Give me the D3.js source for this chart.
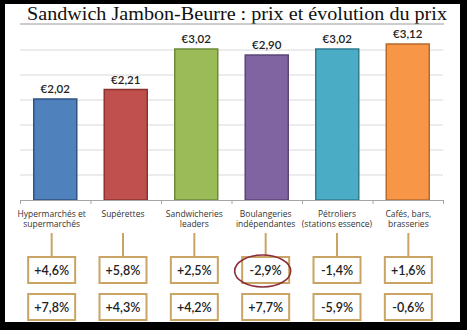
<!DOCTYPE html>
<html><head><meta charset="utf-8">
<script src="https://cdn.jsdelivr.net/npm/d3@7"></script>
<style>html,body{margin:0;padding:0;background:#000;}svg{display:block;}</style>
</head><body>
<script>
const title = "Sandwich Jambon-Beurre : prix et évolution du prix";
const categories = [
  ["Hypermarchés et", "supermarchés"],
  ["Supérettes"],
  ["Sandwicheries", "leaders"],
  ["Boulangeries", "indépendantes"],
  ["Pétroliers", "(stations essence)"],
  ["Cafés, bars,", "brasseries"]
];
const prices = [2.02, 2.21, 3.02, 2.90, 3.02, 3.12];
const priceLabels = ["€2,02", "€2,21", "€3,02", "€2,90", "€3,02", "€3,12"];
const evolution1 = ["+4,6%", "+5,8%", "+2,5%", "-2,9%", "-1,4%", "+1,6%"];
const evolution2 = ["+7,8%", "+4,3%", "+4,2%", "+7,7%", "-5,9%", "-0,6%"];
const gridTicks = [0.5, 1, 1.5, 2, 2.5, 3];
const highlighted = 3;
const colors = ["#4F81BD", "#C0504D", "#9BBB59", "#8064A2", "#4BACC6", "#F79646"];
const strokes = ["#2f5385", "#8c3331", "#6d8a3a", "#5a4575", "#2f7c91", "#b8692c"];

const W = 467, H = 330;
const svg = d3.select("body").append("svg").attr("width", W).attr("height", H);
svg.append("rect").attr("x", 0).attr("y", 0).attr("width", W).attr("height", H).attr("fill", "#000");
svg.append("rect").attr("x", 5).attr("y", 4).attr("width", 455).attr("height", 318).attr("fill", "#fff");

// Title
svg.append("text").attr("x", 237).attr("y", 20).attr("text-anchor", "middle")
  .attr("font-family", "Liberation Serif, DejaVu Serif, serif").attr("font-size", 19)
  .attr("textLength", 420).attr("lengthAdjust", "spacingAndGlyphs")
  .attr("fill", "#111").text(title);
svg.append("line").attr("x1", 20).attr("x2", 444).attr("y1", 24).attr("y2", 24)
  .attr("stroke", "#9a9a9a").attr("stroke-width", 1);

const idx = d3.range(categories.length);
const x = d3.scaleBand().domain(idx).range([20, 443]).paddingInner(0.39).paddingOuter(0.195);
const y = d3.scaleLinear().domain([0, 3]).range([200, 50]);

// gridlines
svg.append("g").selectAll("line").data(gridTicks).join("line")
  .attr("x1", 20).attr("x2", 443).attr("y1", d => y(d)).attr("y2", d => y(d))
  .attr("stroke", "#d9d9d9").attr("stroke-width", 1);

// bars
svg.append("g").selectAll("rect").data(idx).join("rect")
  .attr("x", i => x(i)).attr("width", x.bandwidth())
  .attr("y", i => y(prices[i])).attr("height", i => y(0) - y(prices[i]))
  .attr("fill", i => colors[i]).attr("stroke", i => strokes[i]).attr("stroke-width", 1.5);

// axis
const step = x.step();
const axis = d3.axisBottom(d3.scaleLinear().domain([0, 6]).range([20, 443]))
  .tickValues(d3.range(7)).tickSize(4).tickFormat("");
const ag = svg.append("g").attr("transform", "translate(0,200)").call(axis);
ag.selectAll("path,line").attr("stroke", "#a6a6a6");

// value labels
svg.append("g").selectAll("text").data(idx).join("text")
  .attr("x", i => x(i) + x.bandwidth() / 2).attr("y", i => y(prices[i]) - 6)
  .attr("text-anchor", "middle").attr("font-family", "Lato, Open Sans, sans-serif")
  .attr("font-size", 11.5).attr("font-weight", 600).attr("fill", "#222")
  .text(i => priceLabels[i]);

// lower band scale for labels/boxes
const xb = d3.scaleBand().domain(idx).range([16, 444]);
const cx = i => xb(i) + xb.bandwidth() / 2;

const catG = svg.append("g");
idx.forEach(i => {
  const t = catG.append("text").attr("text-anchor", "middle")
    .attr("font-family", "Open Sans, sans-serif").attr("font-size", 8.5).attr("fill", "#333");
  categories[i].forEach((line, k) => {
    t.append("tspan").attr("x", cx(i)).attr("y", 217 + k * 10).text(line);
  });
});

const tan = "#c9a465";
// connectors
svg.append("g").selectAll("line").data(idx).join("line")
  .attr("x1", cx).attr("x2", cx).attr("y1", 233).attr("y2", 257)
  .attr("stroke", tan).attr("stroke-width", 2);

// boxes
const bw = 47, bh = 26;
[[evolution1, 257], [evolution2, 294]].forEach(([vals, top]) => {
  const g = svg.append("g");
  g.selectAll("rect").data(idx).join("rect")
    .attr("x", i => cx(i) - bw / 2).attr("y", top).attr("width", bw).attr("height", bh)
    .attr("fill", "#fff").attr("stroke", tan).attr("stroke-width", 2);
  g.selectAll("text").data(idx).join("text")
    .attr("x", cx).attr("y", top + bh / 2 + 4.5).attr("text-anchor", "middle")
    .attr("font-family", "Lato, Open Sans, sans-serif").attr("font-size", 12.5)
    .attr("font-weight", 600).attr("fill", "#222").text(i => vals[i]);
});

// highlight ellipse
svg.append("ellipse").attr("cx", cx(highlighted) - 3).attr("cy", 271)
  .attr("rx", 28).attr("ry", 16).attr("fill", "none")
  .attr("stroke", "#8b2e3c").attr("stroke-width", 1.6);
</script>
</body></html>
